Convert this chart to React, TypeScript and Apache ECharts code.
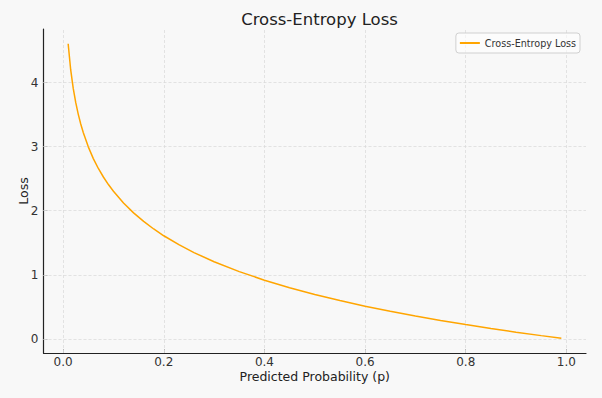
import React, { useEffect, useRef } from "react";
import * as echarts from "echarts";

const probabilities = [0.01, 0.015, 0.02, 0.025, 0.03, 0.035, 0.04, 0.05, 0.06, 0.07, 0.08, 0.09, 0.1, 0.12, 0.14, 0.16, 0.18, 0.2, 0.23, 0.26, 0.3, 0.35, 0.4, 0.45, 0.5, 0.55, 0.6, 0.65, 0.7, 0.75, 0.8, 0.85, 0.9, 0.95, 0.99];
const lossValues = [4.605, 4.2, 3.912, 3.689, 3.507, 3.352, 3.219, 2.996, 2.813, 2.659, 2.526, 2.408, 2.303, 2.12, 1.966, 1.833, 1.715, 1.609, 1.47, 1.347, 1.204, 1.05, 0.916, 0.799, 0.693, 0.598, 0.511, 0.431, 0.357, 0.288, 0.223, 0.163, 0.105, 0.051, 0.01];
const xTicks = [0, 0.2, 0.4, 0.6, 0.8, 1.0];
const yTicks = [0, 1, 2, 3, 4];
const seriesName = "Cross-Entropy Loss";

export default function App() {
  const ref = useRef<HTMLDivElement>(null);
  useEffect(() => {
    if (!ref.current) return;
    const chart = echarts.init(ref.current, null, { renderer: "svg" });
    const font = "DejaVu Sans";
    const gridLine = { color: "#d8d8d8", type: [3, 2] as any, width: 0.7 };
    chart.setOption({
      animation: false,
      backgroundColor: "#f8f8f8",
      textStyle: { fontFamily: font },
      title: {
        text: "Cross-Entropy Loss",
        left: 314.5,
        textAlign: "center",
        top: 6,
        textStyle: { fontFamily: font, fontSize: 16.5, fontWeight: "normal", color: "#222" },
      },
      legend: {
        right: 22,
        top: 33,
        data: [seriesName],
        backgroundColor: "rgba(255,255,255,0.6)",
        borderColor: "#d0d0d0",
        borderWidth: 1,
        borderRadius: 3,
        padding: [5, 4, 5, 4],
        itemWidth: 20,
        itemHeight: 2,
        itemGap: 6,
        icon: "rect",
        textStyle: { fontFamily: font, fontSize: 9.6, color: "#333" },
      },
      grid: { left: 43.5, right: 16, top: 29, bottom: 45, outerBoundsMode: "none", containLabel: false },
      xAxis: {
        type: "value",
        min: -0.039,
        max: 1.039,
        name: "Predicted Probability (p)",
        nameLocation: "middle",
        nameGap: 17,
        nameMoveOverlap: false,
        nameTextStyle: { fontFamily: font, fontSize: 12.5, color: "#222" },
        axisLine: { show: true, onZero: false, lineStyle: { color: "#222", width: 1.2 } },
        axisTick: { show: true, inside: true, length: 4, customValues: xTicks, lineStyle: { color: "#bbb" } },
        axisLabel: {
          customValues: xTicks,
          formatter: (v: number) => v.toFixed(1),
          fontFamily: font,
          fontSize: 12,
          color: "#333",
          margin: 3,
        },
        splitLine: { show: false },
      },
      yAxis: {
        type: "value",
        min: -0.22,
        max: 4.835,
        name: "Loss",
        nameLocation: "middle",
        nameGap: 14,
        nameMoveOverlap: false,
        nameTextStyle: { fontFamily: font, fontSize: 12.5, color: "#222" },
        axisLine: { show: true, onZero: false, lineStyle: { color: "#222", width: 1.2 } },
        axisTick: { show: true, inside: true, length: 4, customValues: yTicks, lineStyle: { color: "#bbb" } },
        axisLabel: {
          customValues: yTicks,
          formatter: (v: number) => String(v),
          fontFamily: font,
          fontSize: 12,
          color: "#333",
          margin: 5,
        },
        splitLine: { show: false },
      },
      series: [
        {
          name: seriesName,
          type: "line",
          data: probabilities.map((p, i) => [p, lossValues[i]]),
          showSymbol: false,
          symbol: "none",
          lineStyle: { color: "#FFA500", width: 1.5 },
          itemStyle: { color: "#FFA500" },
          z: 3,
          markLine: {
            silent: true,
            symbol: "none",
            label: { show: false },
            lineStyle: gridLine,
            data: [
              ...xTicks.map((v) => ({ xAxis: v })),
              ...yTicks.map((v) => ({ yAxis: v })),
            ],
            z: 1,
          },
        },
      ],
    });
    return () => chart.dispose();
  }, []);
  return <div ref={ref} style={{ width: 602, height: 398, position: "absolute", left: 0, top: 0 }} />;
}
